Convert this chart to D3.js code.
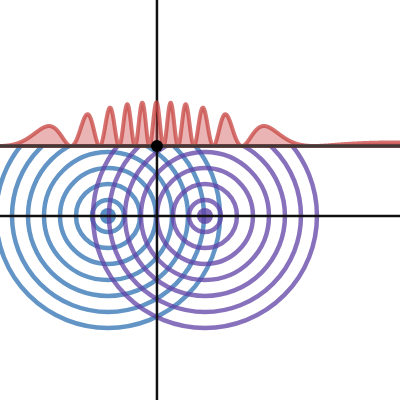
<!DOCTYPE html><html><head><script src="https://cdn.jsdelivr.net/npm/d3@7"></script>
<style>body{margin:0;background:#fff}</style></head><body><svg id="c" width="400" height="400"></svg>
<script>
// wave parameters (units: 1 = one wavelength)
const sourcesX = [-3.06, 3.0];
const sourceColors = ["#2d70b3", "#6042a6"];
const ringRadii = [1,2,3,4,5,6,7];
const screenY = 4.375;
const peakHeight = 2.7;
const xDomain = [-9.81, 15.19], yDomain = [-11.5, 13.5];
const svg = d3.select("#c");
const x = d3.scaleLinear().domain(xDomain).range([0,400]);
const y = d3.scaleLinear().domain(yDomain).range([400,0]);
svg.append("defs").append("clipPath").attr("id","below").append("rect")
  .attr("x",0).attr("y",y(screenY)).attr("width",400).attr("height",400);
const g = svg.append("g").attr("clip-path","url(#below)");
sourcesX.forEach((sx,i)=>{
  g.selectAll(null).data(ringRadii).enter().append("circle")
   .attr("cx",x(sx)).attr("cy",y(0)).attr("r",r=>x(r)-x(0))
   .attr("fill","none").attr("stroke",sourceColors[i]).attr("stroke-width",4.5).attr("stroke-opacity",0.75);
  g.append("circle").attr("cx",x(sx)).attr("cy",y(0)).attr("r",8).attr("fill",sourceColors[i]).attr("fill-opacity",0.8);
});
// axes
svg.append("line").attr("x1",0).attr("x2",400).attr("y1",y(0)).attr("y2",y(0)).attr("stroke","#111").attr("stroke-width",2.5);
svg.append("line").attr("x1",x(0)).attr("x2",x(0)).attr("y1",0).attr("y2",400).attr("stroke","#111").attr("stroke-width",2.5);
// intensity
const xs = d3.range(xDomain[0], xDomain[1], 0.01);
function I(t){const d1=Math.hypot(t-sourcesX[0],screenY),d2=Math.hypot(t-sourcesX[1],screenY);
  const c=Math.cos(Math.PI*(d1-d2));return c*c/(d1*d2);}
const I0 = I(0);
const pts = xs.map(t=>[t, screenY+peakHeight*I(t)/I0]);
svg.append("path").datum(pts).attr("d",d3.area().x(d=>x(d[0])).y0(y(screenY)).y1(d=>y(d[1])))
  .attr("fill","#c74440").attr("fill-opacity",0.4).attr("stroke","#c74440").attr("stroke-width",4).attr("stroke-opacity",0.75);
svg.append("line").attr("x1",0).attr("x2",400).attr("y1",y(screenY)).attr("y2",y(screenY)).attr("stroke","#333").attr("stroke-width",3.5).attr("stroke-opacity",0.9);
svg.append("circle").attr("cx",x(0)).attr("cy",y(screenY)).attr("r",6).attr("fill","#000");
</script></body></html>
